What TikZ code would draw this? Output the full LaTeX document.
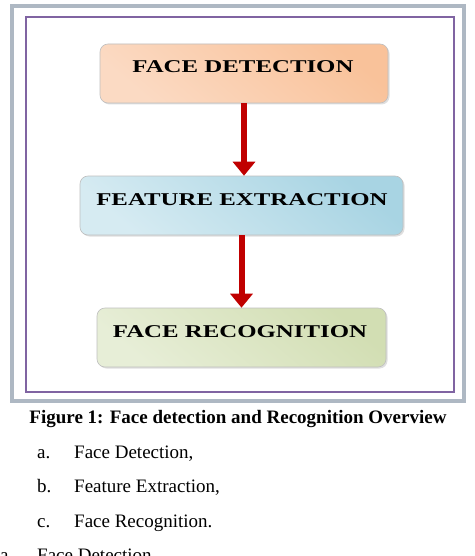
\documentclass[tikz,border=0pt]{standalone}
\usepackage{fontspec}
\setmainfont{Liberation Serif}
\usetikzlibrary{arrows.meta,shadows}
\definecolor{framegray}{HTML}{AEB8C3}
\definecolor{framepurple}{HTML}{8064A2}
\definecolor{arrowred}{HTML}{C00000}
\definecolor{orA}{HTML}{F9C29A}
\definecolor{orB}{HTML}{FBDAC3}
\definecolor{blA}{HTML}{A8D4E3}
\definecolor{blB}{HTML}{D6EBF2}
\definecolor{grA}{HTML}{D2DEB3}
\definecolor{grB}{HTML}{E7EED7}
\tikzset{
  stepbox/.style={draw=black!25, line width=0.6pt, rounded corners=8pt,
    minimum height=59pt, inner sep=0pt,
    drop shadow={shadow xshift=1.5pt, shadow yshift=-1.5pt, opacity=0.25}},
  boxtext/.style={font=\bfseries\fontsize{18}{20}\selectfont, inner sep=0pt, anchor=base},
  arr/.style={draw=arrowred, line width=6pt, -{Triangle[width=22pt,length=14pt]}},
  captext/.style={font=\bfseries\fontsize{19}{22}\selectfont, inner sep=0pt, anchor=base},
  listtext/.style={font=\fontsize{19}{22}\selectfont, inner sep=0pt, anchor=base west}
}
\begin{document}
\begin{tikzpicture}[x=1pt,y=-1pt]
\useasboundingbox (0,0) rectangle (474,556);
\clip (0,0) rectangle (474,556);
% frames
\draw[framegray, line width=4pt, fill=white,
  drop shadow={shadow xshift=1pt, shadow yshift=-1pt, opacity=0.2}]
  (12,6) rectangle (464,401);
\draw[framepurple, line width=2pt] (26,17) rectangle (454,392);
% boxes
\node[stepbox, minimum width=288pt, top color=orA, bottom color=orB, shading angle=-40] (fd) at (244,73.5) {};
\node[stepbox, minimum width=323pt, top color=blA, bottom color=blB, shading angle=-40] (fe) at (241.5,205.5) {};
\node[stepbox, minimum width=289pt, top color=grA, bottom color=grB, shading angle=-40] (fr) at (241.5,337.5) {};
\node[boxtext] (fdt) at (243,73) {\scalebox{1.38}[1]{FACE DETECTION}};
\node[boxtext] (fet) at (242,205.5) {\scalebox{1.38}[1]{FEATURE EXTRACTION}};
\node[boxtext] (frt) at (240,337) {\scalebox{1.38}[1]{FACE RECOGNITION}};
% arrows
\draw[arr] (fd.south) -- (fd.south |- fe.north);
\draw[arr] (fe.south) -- (fe.south |- fr.north);
% caption and list
\node[captext] (cap) at (238,423) {Figure 1: Face detection and Recognition Overview};
\node[listtext] (la) at (37,458) {a.};
\node[listtext] (ta) at (74,458) {Face Detection,};
\node[listtext] (lb) at (37,492) {b.};
\node[listtext] (tb) at (74,492) {Feature Extraction,};
\node[listtext] (lc) at (37,527) {c.};
\node[listtext] (tc) at (74,527) {Face Recognition.};
\node[listtext] (ld) at (0,561) {a.};
\node[listtext] (td) at (37,561) {Face Detection};
\end{tikzpicture}
\end{document}
